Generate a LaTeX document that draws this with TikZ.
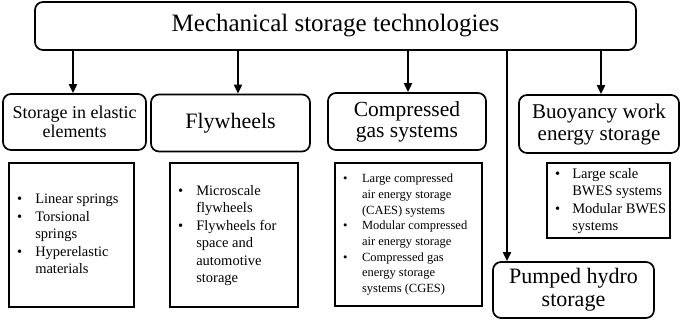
\documentclass[tikz,border=0pt]{standalone}
\usepackage{fontspec}
\setmainfont{Liberation Serif}
\usetikzlibrary{arrows.meta}
\begin{document}
\begin{tikzpicture}[x=1pt,y=-1pt,
  rbox/.style={draw,line width=1.7pt,rounded corners=8pt,align=center,inner sep=0pt},
  dbox/.style={draw,line width=1.7pt,inner sep=0pt},
  blist/.style={anchor=west,inner sep=0pt,align=left},
  arr/.style={line width=1.8pt,-{Triangle[length=9pt,width=8pt]}},
  vline/.style={line width=1.8pt}
]
\useasboundingbox (0,0) rectangle (685,322);
% top box
\node[rbox,minimum width=601pt,minimum height=48pt,font=\fontsize{25}{27}\selectfont] (top) at (335.5,26) {Mechanical storage technologies};
% second row
\node[rbox,minimum width=143pt,minimum height=56pt,font=\fontsize{18}{19.5}\selectfont] (b1) at (74.5,122) {Storage in elastic\\elements};
\node[rbox,minimum width=159pt,minimum height=57pt,font=\fontsize{22}{24}\selectfont] (b2) at (230.5,123) {Flywheels};
\node[rbox,minimum width=158pt,minimum height=57pt,font=\fontsize{21.5}{21}\selectfont] (b3) at (407,121.5) {Compressed\\gas systems};
\node[rbox,minimum width=160pt,minimum height=58pt,font=\fontsize{21}{22}\selectfont] (b4) at (599,124) {Buoyancy work\\energy storage};
\node[rbox,minimum width=161pt,minimum height=56pt,font=\fontsize{22}{23}\selectfont] (ph) at (573.5,290) {Pumped hydro\\storage};
% detail boxes
\node[dbox,minimum width=125pt,minimum height=144pt] (d1) at (71.5,235) {};
\node[dbox,minimum width=128pt,minimum height=144pt] (d2) at (234,235) {};
\node[dbox,minimum width=147pt,minimum height=143pt] (d3) at (408.5,234.5) {};
\node[dbox,minimum width=123pt,minimum height=75pt] (d4) at (608.5,200.5) {};
% lists
\node[blist,font=\fontsize{14.5}{17.5}\selectfont] (l1) at (17,235) {\begin{tabular}{@{}l@{\hspace{13pt}}l@{}}
\textbullet & Linear springs\\
\textbullet & Torsional\\
 & springs\\
\textbullet & Hyperelastic\\
 & materials
\end{tabular}};
\node[blist,font=\fontsize{14.5}{17.5}\selectfont] (l2) at (178,235.5) {\begin{tabular}{@{}l@{\hspace{13pt}}l@{}}
\textbullet & Microscale\\
 & flywheels\\
\textbullet & Flywheels for\\
 & space and\\
 & automotive\\
 & storage
\end{tabular}};
\node[blist,font=\fontsize{12.5}{15.7}\selectfont] (l3) at (343,234.5) {\begin{tabular}{@{}l@{\hspace{14.5pt}}l@{}}
\textbullet & Large compressed\\
 & air energy storage\\
 & (CAES) systems\\
\textbullet & Modular compressed\\
 & air energy storage\\
\textbullet & Compressed gas\\
 & energy storage\\
 & systems (CGES)
\end{tabular}};
\node[blist,font=\fontsize{14.5}{17.3}\selectfont] (l4) at (555,201) {\begin{tabular}{@{}l@{\hspace{12pt}}l@{}}
\textbullet & Large scale\\
 & BWES systems\\
\textbullet & Modular BWES\\
 & systems
\end{tabular}};
% connectors
\coordinate (x1) at (73,0);
\coordinate (x2) at (238,0);
\coordinate (x3) at (408,0);
\coordinate (x4) at (601,0);
\coordinate (xv) at (507,0);
\draw[arr] (top.south -| x1) -- (b1.north -| x1);
\draw[arr] (top.south -| x2) -- (b2.north -| x2);
\draw[arr] (top.south -| x3) -- (b3.north -| x3);
\draw[arr] (top.south -| x4) -- (b4.north -| x4);
\draw[arr] (top.south -| xv) -- (ph.north -| xv);
\end{tikzpicture}
\end{document}
